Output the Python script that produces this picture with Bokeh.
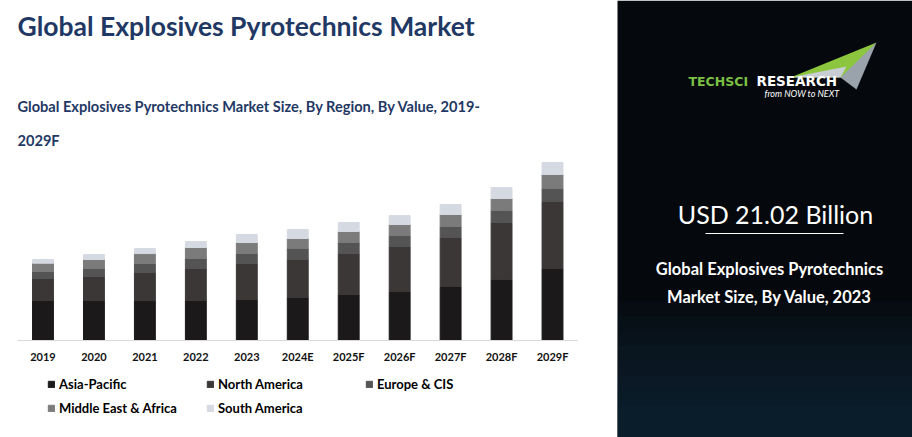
import numpy as np
from bokeh.plotting import figure
from bokeh.models import ColumnDataSource, Label, Range1d, Legend, LegendItem
from bokeh.core.properties import value
from bokeh.embed import file_html
from bokeh.resources import INLINE

# ---------------- data (USD Billion) ----------------
years = ["2019", "2020", "2021", "2022", "2023", "2024E", "2025F", "2026F", "2027F", "2028F", "2029F"]
regions = ["Asia-Pacific", "North America", "Europe & CIS", "Middle East & Africa", "South America"]
asia_pacific = [7.93, 7.93, 7.93, 7.93, 8.13, 8.53, 9.12, 9.72, 10.71, 12.10, 14.28]
north_america = [4.36, 4.76, 5.55, 6.35, 7.14, 7.54, 8.13, 8.92, 9.72, 11.30, 13.29]
europe_cis = [1.39, 1.59, 1.78, 1.98, 1.98, 2.18, 2.18, 2.18, 2.18, 2.38, 2.58]
middle_east_africa = [1.65, 1.78, 1.98, 2.18, 2.18, 1.98, 2.18, 2.18, 2.38, 2.38, 2.78]
south_america = [0.73, 0.99, 0.99, 1.19, 1.59, 1.78, 1.78, 1.78, 1.98, 2.18, 2.38]
colors = ["#1b1919", "#3a3736", "#555454", "#7b7b7b", "#d5d9e2"]

title_text = "Global Explosives Pyrotechnics Market"
subtitle_1 = "Global Explosives Pyrotechnics Market Size, By Region, By Value, 2019-"
subtitle_2 = "2029F"
headline_value = "USD 21.02 Billion"
side_1 = "Global Explosives Pyrotechnics"
side_2 = "Market Size, By Value, 2023"

FONT = "Lato"
NAVY = "#1f3864"
W, H = 912, 437

idx = np.arange(len(years))
source = ColumnDataSource(dict(
    x=idx, year=years,
    **{"Asia-Pacific": asia_pacific,
       "North America": north_america,
       "Europe & CIS": europe_cis,
       "Middle East & Africa": middle_east_africa,
       "South America": south_america}))

# page-pixel frame (whole canvas) for layout; extra ranges place the chart
p = figure(width=W, height=H, x_range=Range1d(0, W), y_range=Range1d(H, 0),
           output_backend="svg", toolbar_location=None, title=None,
           min_border=0, min_border_left=0, min_border_right=0,
           min_border_top=0, min_border_bottom=0)
p.axis.visible = False
p.grid.visible = False
p.outline_line_color = None
p.background_fill_color = "#ffffff"
p.border_fill_color = "#ffffff"

# chart area on the page: categories span x 17..577.5, baseline at y 340
CH_L, CH_R, BASE = 17.0, 577.5, 340.0
pitch = (CH_R - CH_L) / len(years)
px_per_unit = 106 / 21.02
p.extra_x_ranges = {"cat": Range1d(-(CH_L / pitch) - 0.5, (W - CH_L) / pitch - 0.5)}
p.extra_y_ranges = {"val": Range1d(-(H - BASE) / px_per_unit, BASE / px_per_unit)}

renderers = p.vbar_stack(regions, x="x", width=0.41, color=colors, source=source,
                         x_range_name="cat", y_range_name="val")

# x axis line and category labels
p.segment(x0=[-0.5], x1=[len(years) - 0.5], y0=[0], y1=[0], line_color="#d9d9d9",
          line_width=1, x_range_name="cat", y_range_name="val")
p.text(x=idx, y=[356] * len(years), text=years, x_range_name="cat",
       text_font=value(FONT), text_font_style="bold", text_font_size="11px",
       text_color="#111111", text_align="center", text_baseline="alphabetic")

# legend
legend = Legend(items=[LegendItem(label=r, renderers=[rr]) for r, rr in zip(regions, renderers)],
                orientation="horizontal", ncols=3, location=(47, 19),
                padding=0, margin=0, spacing=4, glyph_width=8, glyph_height=8,
                label_standoff=4, label_width=143, label_height=20,
                border_line_color=None, background_fill_alpha=0,
                label_text_font=FONT, label_text_font_style="bold",
                label_text_font_size="13px", label_text_color="#000000")
p.add_layout(legend)


def label(text, x, y, size, color, style="bold", align="left", font=FONT):
    p.add_layout(Label(x=x, y=y, text=text, text_font=font, text_font_style=style,
                       text_font_size=f"{size}px", text_color=color, text_baseline="alphabetic",
                       text_align=align))


label(title_text, 17, 25.5, 26.5, NAVY)
label(subtitle_1, 17, 105.5, 14.6, NAVY)
label(subtitle_2, 17, 139.5, 14.6, NAVY)

# ---------------- right panel ----------------
X0 = 617
p.quad(left=[X0], right=[W], top=[0], bottom=[H], fill_color="#05080d", line_color=None)
p.quad(left=[X0] * 8, right=[W] * 8, top=[300, 315, 330, 345, 360, 375, 390, 405], bottom=[H] * 8,
       fill_color="#123040", fill_alpha=0.1, line_color=None)

# logo arrow
p.patch([876, 790, 846], [42, 77, 77], fill_color="#8cc63f", line_color=None)
p.patch([876, 840, 856], [42, 77, 89], fill_color="#9aa3ab", line_color=None)
p.patch([846, 790, 840], [66, 77, 77], fill_color="#c8ced4", line_color=None)

label("TECHSCI", 688, 80.5, 12.5, "#7ac143", font="DejaVu Sans")
label("RESEARCH", 756, 80.5, 13.5, "#ffffff", font="DejaVu Sans")
label("from NOW to NEXT", 764, 92.5, 9, "#ffffff", style="italic")

label(headline_value, 775, 213.5, 25, "#ffffff", style="normal", align="center")
p.segment(x0=[705], y0=[233], x1=[843], y1=[233], line_color="#ffffff", line_width=1.2)
label(side_1, 769, 268, 16.5, "#ffffff", align="center")
label(side_2, 769, 296, 16.5, "#ffffff", align="center")

open("out.html", "w").write(file_html(p, INLINE))
